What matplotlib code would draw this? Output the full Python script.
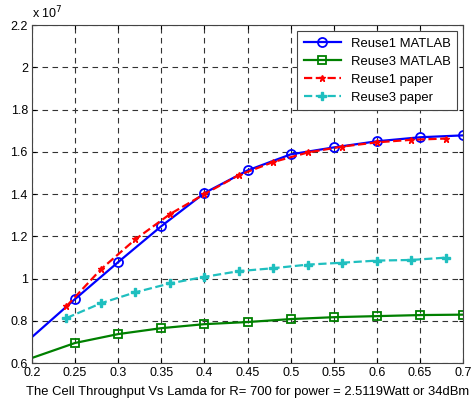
import numpy as np
import matplotlib.pyplot as plt

plt.rcParams['font.family'] = ['Liberation Sans', 'DejaVu Sans']

# MATLAB curves (x = lambda)
x_matlab = [0.2, 0.25, 0.3, 0.35, 0.4, 0.45, 0.5, 0.55, 0.6, 0.65, 0.7]
reuse1_matlab = [0.723, 0.903, 1.078, 1.248, 1.405, 1.512, 1.588, 1.621, 1.650, 1.669, 1.678]
reuse3_matlab = [0.624, 0.695, 0.737, 0.765, 0.784, 0.794, 0.808, 0.817, 0.822, 0.827, 0.829]

# paper curves
x_paper = [0.24, 0.28, 0.32, 0.36, 0.40, 0.44, 0.48, 0.52, 0.56, 0.60, 0.64, 0.68]
reuse1_paper = [0.869, 1.044, 1.186, 1.305, 1.400, 1.490, 1.552, 1.597, 1.625, 1.645, 1.657, 1.663]
reuse3_paper = [0.813, 0.883, 0.935, 0.977, 1.008, 1.035, 1.049, 1.066, 1.075, 1.085, 1.088, 1.099]

xticks = np.arange(0.2, 0.701, 0.05)
yticks = np.arange(0.6, 2.201, 0.2)
scale = 1e7

fig = plt.figure(figsize=(4.74, 3.99), dpi=100)
ax = fig.add_axes([0.0675, 0.0902, 0.9095, 0.8468])

x1 = np.array(x_matlab)
ax.plot(x1, np.array(reuse1_matlab) * scale, '-o', color='#0000ff', lw=1.6,
        ms=6.5, mfc='none', mew=1.3, markevery=slice(1, None), label='Reuse1 MATLAB')
ax.plot(x1, np.array(reuse3_matlab) * scale, '-s', color='#008000', lw=1.6,
        ms=6, mfc='none', mew=1.3, markevery=slice(1, None), label='Reuse3 MATLAB')
ax.plot(x_paper, np.array(reuse1_paper) * scale, '--*', color='#ff0000', lw=1.6,
        ms=4.5, label='Reuse1 paper')
ax.plot(x_paper, np.array(reuse3_paper) * scale, '--P', color='#1fbfbf', lw=1.6,
        ms=5.5, label='Reuse3 paper')

ax.set_xlim(0.2, 0.7)
ax.set_ylim(0.6 * scale, 2.2 * scale)
ax.set_xticks(xticks)
ax.set_xticklabels(['0.2', '0.25', '0.3', '0.35', '0.4', '0.45', '0.5', '0.55', '0.6', '0.65', '0.7'])
ax.set_yticks(yticks * scale)
ax.set_yticklabels(['0.6', '0.8', '1', '1.2', '1.4', '1.6', '1.8', '2', '2.2'])
ax.tick_params(direction='in', top=True, right=True, labelsize=9, length=3, pad=3)
ax.grid(True, color='#333333', linestyle=(0, (5, 4)), linewidth=0.8)
for s in ax.spines.values():
    s.set_color('#444444')

ax.text(0.0, 1.012, r'x 10$^{7}$', transform=ax.transAxes, fontsize=9, ha='left', va='bottom')
ax.set_xlabel('The Cell Throughput Vs Lamda for R= 700 for power = 2.5119Watt or 34dBm',
              fontsize=9.4, labelpad=5)

leg = ax.legend(loc='upper right', fontsize=9.4, fancybox=False, framealpha=1,
                edgecolor='#444444', handlelength=2.8, borderaxespad=0.45,
                labelspacing=0.45, borderpad=0.5)
leg.get_frame().set_linewidth(0.8)

fig.savefig('out.png', dpi=100)
